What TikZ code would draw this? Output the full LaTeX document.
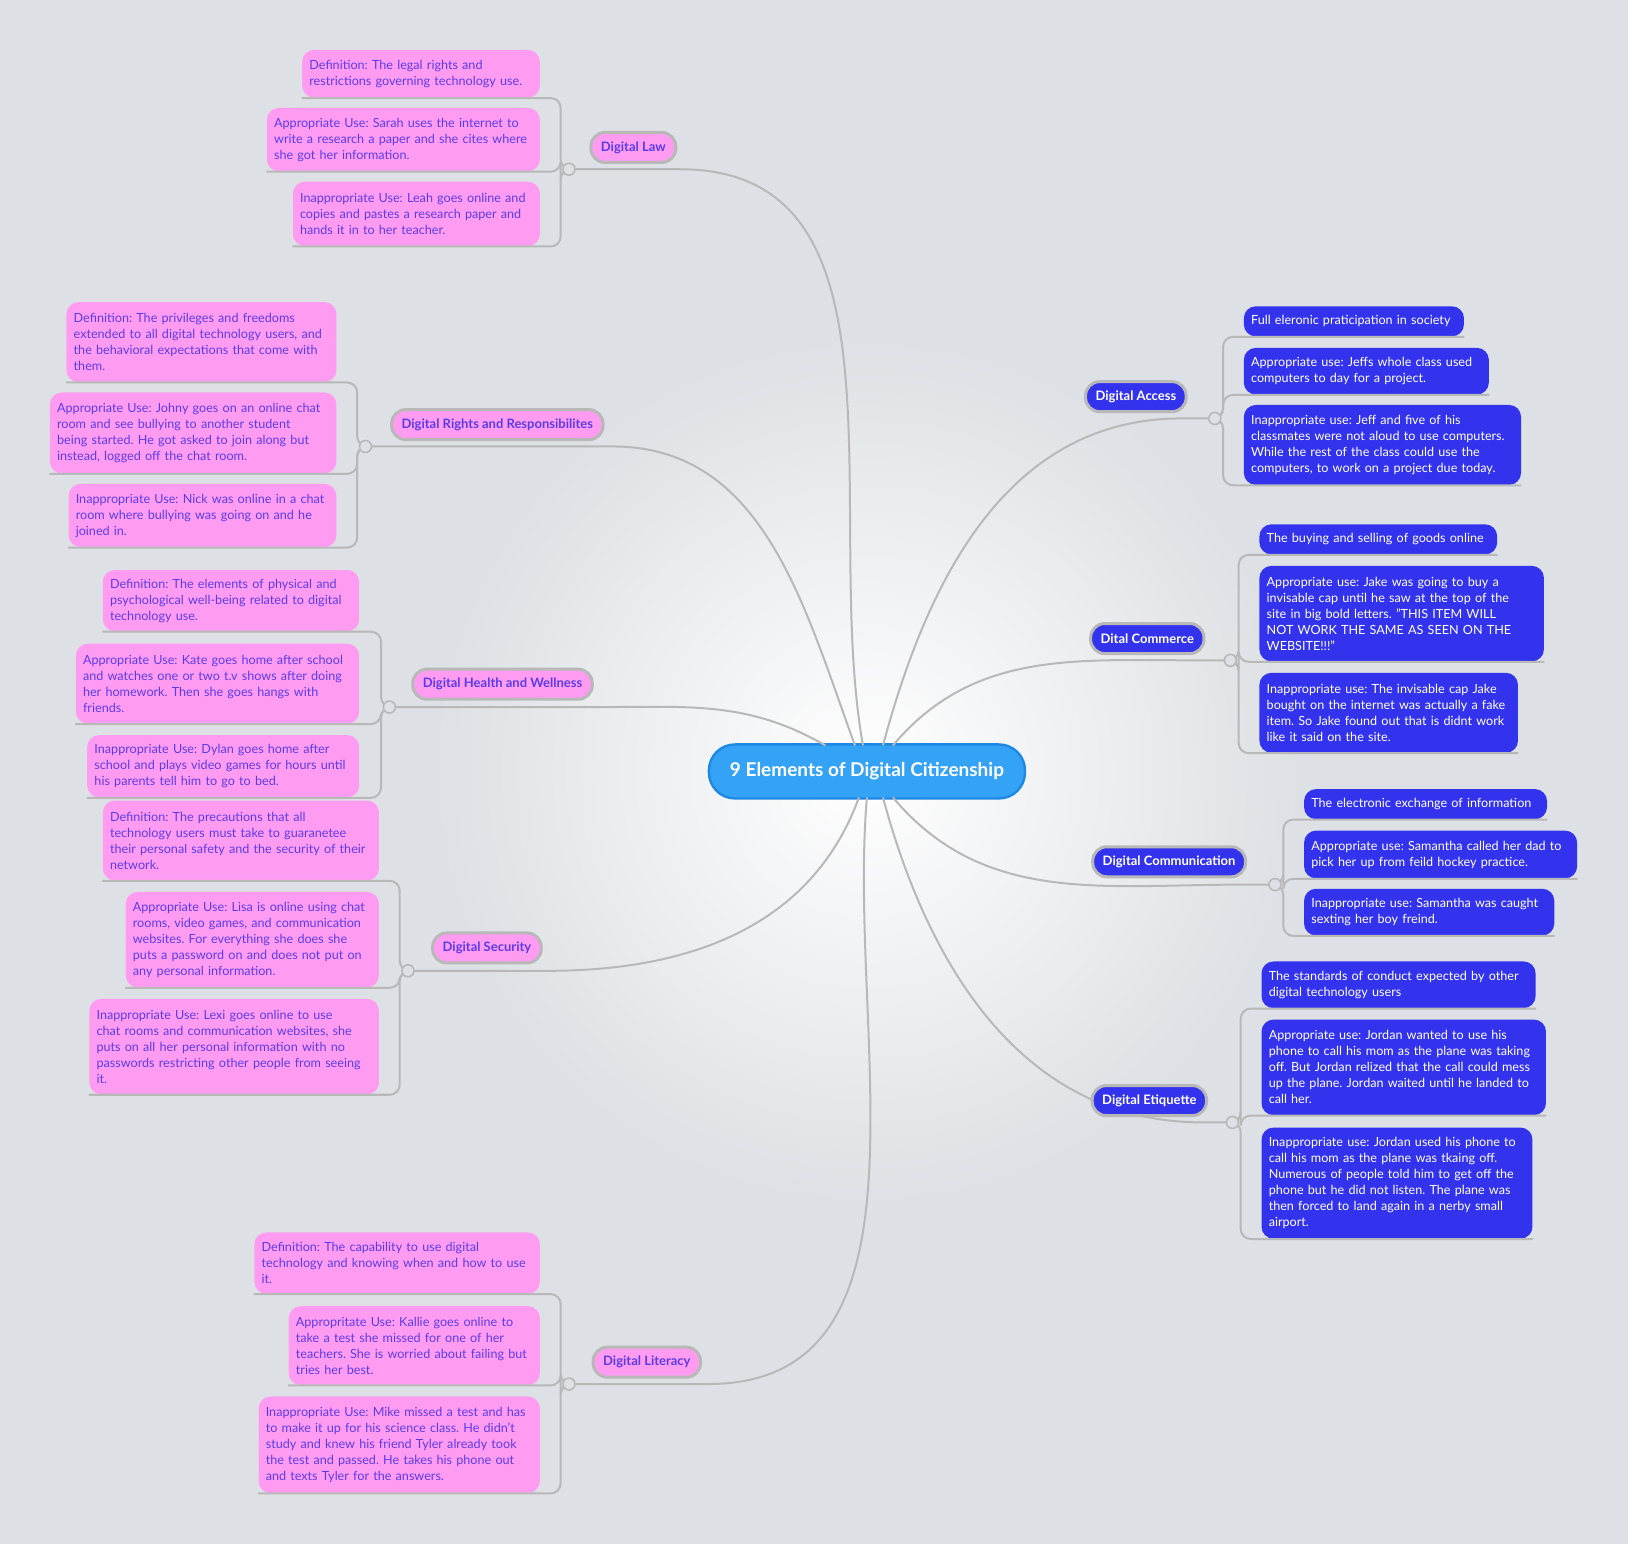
\documentclass[tikz,border=0pt]{standalone}
\usepackage{fontspec}
\setmainfont{Lato}
\definecolor{bg}{HTML}{DDE0E4}
\definecolor{pk}{HTML}{FF9CF2}
\definecolor{pkt}{HTML}{5B3BE8}
\definecolor{bl}{HTML}{3333EE}
\definecolor{cf}{HTML}{35A3F5}
\definecolor{cb}{HTML}{1E88E5}
\definecolor{ln}{HTML}{B8B8B8}
\newcommand\leaffont{\fontsize{6.3}{8}\selectfont\frenchspacing\hyphenpenalty 10000\exhyphenpenalty 10000\relax}
\tikzset{
 conn/.style={draw=ln,line width=1pt},
 pleaf/.style={fill=pk,text=pkt,rounded corners=6pt,inner sep=0pt,align=left,font=\leaffont},
 bleaf/.style={fill=bl,text=white,rounded corners=6pt,inner sep=0pt,align=left,font=\leaffont},
 pbranch/.style={fill=pk,text=pkt,draw=ln,line width=1.5pt,rounded corners=7pt,minimum height=15pt,inner xsep=5pt,font=\bfseries\fontsize{6.5}{8}\selectfont},
 bbranch/.style={fill=bl,text=white,draw=ln,line width=1.5pt,rounded corners=7pt,minimum height=15pt,inner xsep=5pt,font=\bfseries\fontsize{6.5}{8}\selectfont},
 junc/.style={circle,draw=ln,fill=bg,line width=0.8pt,inner sep=0pt,minimum size=6pt},
}
\newcommand\leafL[8]{%
 \pgfmathsetmacro\ww{(#4-#3)*0.519}\pgfmathsetmacro\hh{(#6-#5)*0.519}\pgfmathsetmacro\tw{(#4-#3-14)*0.519}%
 \node[#2, minimum width=\ww pt, minimum height=\hh pt, text width=\tw pt] (#1) at ({(#3+#4)/2},{(#5+#6)/2}) {#8};
 \draw[conn,rounded corners=5pt] (#7) -- ++(-8,0) |- (#1.south west);
}
\newcommand\leafR[8]{%
 \pgfmathsetmacro\ww{(#4-#3)*0.519}\pgfmathsetmacro\hh{(#6-#5)*0.519}\pgfmathsetmacro\tw{(#4-#3-14)*0.519}%
 \node[#2, minimum width=\ww pt, minimum height=\hh pt, text width=\tw pt] (#1) at ({(#3+#4)/2},{(#5+#6)/2}) {#8};
 \draw[conn,rounded corners=5pt] (#7) -- ++(8,0) |- (#1.south east);
}
\begin{document}
\begin{tikzpicture}[x=0.519pt,y=-0.519pt]
\fill[bg] (0,0) rectangle (1568,1487);
\shade[inner color=white,outer color=bg] (835,743) circle[radius=420];
\useasboundingbox (0,0) rectangle (1568,1487);
% center
\node[fill=cf,draw=cb,line width=1.2pt,rounded corners=13pt,minimum width=158pt,minimum height=27pt,text=white,font=\bfseries\fontsize{9.5}{11}\selectfont] (ctr) at (835,743) {9 Elements of Digital Citizenship};
\coordinate (cT) at (835,718);
\coordinate (cB) at (835,768);
% junction positions
\coordinate (jLaw) at (548,163);
\coordinate (jRig) at (352,430);
\coordinate (jHea) at (375,681);
\coordinate (jSec) at (393,935);
\coordinate (jLit) at (548,1333);
\coordinate (jAcc) at (1170,403);
\coordinate (jCom) at (1185,636);
\coordinate (jCmu) at (1228,852);
\coordinate (jEti) at (1187,1081);
% branch lines
\draw[conn] (jLaw) -- (655,163) to[out=0,in=100] ([xshift=-2]cT);
\draw[conn] (jRig) -- (590,430) to[out=0,in=110] ([xshift=-6]cT);
\draw[conn] (jHea) -- (577,681) to[out=0,in=150] (795,718);
\draw[conn] (jSec) -- (528,935) to[out=0,in=-110] ([xshift=-4]cB);
\draw[conn] (jLit) -- (682,1333) to[out=0,in=-95] (cB);
\draw[conn] (jAcc) -- (1138,403) to[out=180,in=75] ([xshift=8]cT);
\draw[conn] (jCom) -- (1156,636) to[out=180,in=50] (860,718);
\draw[conn] (jCmu) -- (1196,852) to[out=180,in=-50] (860,768);
\draw[conn] (jEti) -- (1158,1081) to[out=180,in=-75] ([xshift=8]cB);
% branch nodes
\node[pbranch] (law) at (610,142) {Digital Law};
\node[pbranch] (rig) at (479,409) {Digital Rights and Responsibilites};
\node[pbranch] (hea) at (484,659) {Digital Health and Wellness};
\node[pbranch] (sec) at (469,913) {Digital Security};
\node[pbranch] (lit) at (623,1312) {Digital Literacy};
\node[bbranch] (acc) at (1094,382) {Digital Access};
\node[bbranch] (com) at (1105,615) {Dital Commerce};
\node[bbranch] (cmu) at (1126,830) {Digital Communication};
\node[bbranch] (eti) at (1107,1060) {Digital Etiquette};
% Law leaves
\leafL{l1}{pleaf}{291}{520}{48}{94}{jLaw}{Definition: The legal rights and\\restrictions governing technology use.}
\leafL{l2}{pleaf}{257}{520}{104}{165}{jLaw}{Appropriate Use: Sarah uses the internet to write a research a paper and she cites where she got her information.}
\leafL{l3}{pleaf}{282}{520}{175}{237}{jLaw}{Inappropriate Use: Leah goes online and copies and pastes a research paper and hands it in to her teacher.}
% Rights
\leafL{r1}{pleaf}{64}{324}{291}{368}{jRig}{Definition: The privileges and freedoms extended to all digital technology users, and the behavioral expectations that come with them.}
\leafL{r2}{pleaf}{48}{324}{378}{456}{jRig}{Appropriate Use: Johny goes on an online chat room and see bullying to another student\\being started. He got asked to join along but instead, logged off the chat room.}
\leafL{r3}{pleaf}{66}{324}{466}{527}{jRig}{Inappropriate Use: Nick was online in a chat room where bullying was going on and he joined in.}
% Health
\leafL{h1}{pleaf}{99}{346}{549}{608}{jHea}{Definition: The elements of physical and psychological well-being related to digital technology use.}
\leafL{h2}{pleaf}{73}{346}{620}{697}{jHea}{Appropriate Use: Kate goes home after school and watches one or two t.v shows after doing her homework. Then she goes hangs with friends.}
\leafL{h3}{pleaf}{84}{346}{708}{768}{jHea}{Inappropriate Use: Dylan goes home after school and plays video games for hours until his parents tell him to go to bed.}
% Security
\leafL{s1}{pleaf}{99}{365}{771}{848}{jSec}{Definition: The precautions that all\\technology users must take to guaranetee their personal safety and the security of their network.}
\leafL{s2}{pleaf}{121}{365}{859}{951}{jSec}{Appropriate Use: Lisa is online using chat rooms, video games, and communication websites. For everything she does she puts a password on and does not put on any personal information.}
\leafL{s3}{pleaf}{86}{365}{962}{1054}{jSec}{Inappropriate Use: Lexi goes online to use\\chat rooms and communication websites, she puts on all her personal information with no passwords restricting other people from seeing it.}
% Literacy
\leafL{t1}{pleaf}{245}{520}{1187}{1246}{jLit}{Definition: The capability to use digital\\technology and knowing when and how to use it.}
\leafL{t2}{pleaf}{278}{520}{1258}{1334}{jLit}{Appropritate Use: Kallie goes online to take a test she missed for one of her teachers. She is worried about failing but tries her best.}
\leafL{t3}{pleaf}{249}{520}{1345}{1438}{jLit}{Inappropriate Use: Mike missed a test and has to make it up for his science class. He didn't study and knew his friend Tyler already took the test and passed. He takes his phone out and texts Tyler for the answers.}
% Access
\leafR{a1}{bleaf}{1198}{1410}{295}{324}{jAcc}{Full eleronic praticipation in society}
\leafR{a2}{bleaf}{1198}{1434}{335}{380}{jAcc}{Appropriate use: Jeffs whole class used computers to day for a project.}
\leafR{a3}{bleaf}{1198}{1465}{390}{467}{jAcc}{Inappropriate use: Jeff and five of his classmates were not aloud to use computers. While the rest of the class could use the computers, to work on a project due today.}
% Commerce
\leafR{c1}{bleaf}{1213}{1442}{505}{534}{jCom}{The buying and selling of goods online}
\leafR{c2}{bleaf}{1213}{1487}{545}{637}{jCom}{Appropriate use: Jake was going to buy a\\invisable cap until he saw at the top of the site in big bold letters. "THIS ITEM WILL NOT WORK THE SAME AS SEEN ON THE WEBSITE!!!"}
\leafR{c3}{bleaf}{1213}{1462}{648}{725}{jCom}{Inappropriate use: The invisable cap Jake bought on the internet was actually a fake item. So Jake found out that is didnt work like it said on the site.}
% Communication
\leafR{m1}{bleaf}{1256}{1490}{760}{789}{jCmu}{The electronic exchange of information}
\leafR{m2}{bleaf}{1256}{1519}{800}{846}{jCmu}{Appropriate use: Samantha called her dad to pick her up from feild hockey practice.}
\leafR{m3}{bleaf}{1256}{1497}{856}{901}{jCmu}{Inappropriate use: Samantha was caught sexting her boy freind.}
% Etiquette
\leafR{e1}{bleaf}{1215}{1479}{926}{971}{jEti}{The standards of conduct expected by other digital technology users}
\leafR{e2}{bleaf}{1215}{1489}{982}{1074}{jEti}{Appropriate use: Jordan wanted to use his phone to call his mom as the plane was taking off. But Jordan relized that the call could mess up the plane. Jordan waited until he landed to call her.}
\leafR{e3}{bleaf}{1215}{1476}{1086}{1193}{jEti}{Inappropriate use: Jordan used his phone to\\call his mom as the plane was tkaing off. Numerous of people told him to get off the phone but he did not listen. The plane was then forced to land again in a nerby small airport.}
% junction circles on top
\foreach \j in {jLaw,jRig,jHea,jSec,jLit,jAcc,jCom,jCmu,jEti}
  \node[junc] at (\j) {};
\end{tikzpicture}
\end{document}
